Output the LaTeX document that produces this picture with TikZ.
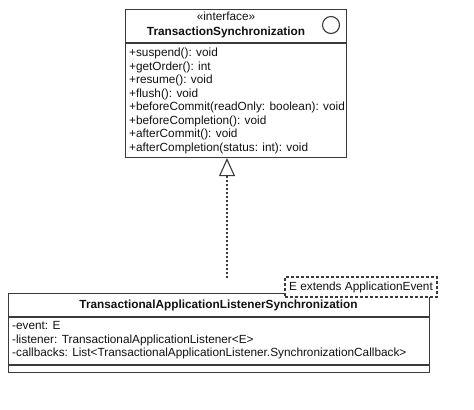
\documentclass[tikz,border=0pt]{standalone}
\usepackage{fontspec}
\setmainfont{Liberation Sans}
\usetikzlibrary{arrows.meta}
\definecolor{linec}{HTML}{3A3A3A}
\definecolor{txtc}{HTML}{111111}
\begin{document}
\begin{tikzpicture}[x=1bp,y=-1bp,
  classbox/.style={draw=linec, line width=1.1bp, fill=white, inner sep=0pt, anchor=north west},
  divider/.style={draw=linec, line width=1.1bp},
  txt/.style={font=\fontsize{11.8bp}{13.5bp}\selectfont, inner sep=0pt, text=txtc, text height=8.5bp, text depth=2.5bp},
  member/.style={txt, anchor=west},
  titletxt/.style={txt, font=\fontsize{11.8bp}{13.5bp}\selectfont\bfseries},
  tplbox/.style={draw=linec, line width=1.1bp, dash pattern=on 3bp off 2bp, fill=white, inner sep=0pt, minimum width=152bp, minimum height=20bp, txt},
  realize/.style={draw=linec, line width=1.2bp, dash pattern=on 2bp off 2bp, -{Triangle[open, length=18bp, width=16bp, line width=1.1bp]}}
]
\useasboundingbox (0,0) rectangle (474,409);

% Interface TransactionSynchronization
\node[classbox, minimum width=221bp, minimum height=148bp] (ts) at (125,9) {};
\draw[divider] (ts.west |- 0,43) -- (ts.east |- 0,43);
\node[draw=linec, line width=1.1bp, circle, minimum size=17bp, inner sep=0pt] (icon) at (331,25) {};
\node[txt] (tsst) at (226,17) {«interface»};
\node[titletxt] (tsname) at (226,32) {TransactionSynchronization};
\node[member] (m1) at (129,53.5) {+suspend(): void};
\node[member] (m2) at (129,67) {+getOrder(): int};
\node[member] (m3) at (129,80.5) {+resume(): void};
\node[member] (m4) at (129,94) {+flush(): void};
\node[member] (m5) at (129,107.5) {+beforeCommit(readOnly: boolean): void};
\node[member] (m6) at (129,121) {+beforeCompletion(): void};
\node[member] (m7) at (129,134.5) {+afterCommit(): void};
\node[member] (m8) at (129,148) {+afterCompletion(status: int): void};

% Class TransactionalApplicationListenerSynchronization
\node[classbox, minimum width=421bp, minimum height=79bp] (tals) at (8,293) {};
\draw[divider] (tals.west |- 0,317) -- (tals.east |- 0,317);
\draw[divider] (tals.west |- 0,365) -- (tals.east |- 0,365);
\node[titletxt] (talsname) at (218.5,305) {TransactionalApplicationListenerSynchronization};
\node[member] (a1) at (12,326.5) {-event: E};
\node[member] (a2) at (12,340) {-listener: TransactionalApplicationListener<E>};
\node[member] (a3) at (12,353.5) {-callbacks: List<TransactionalApplicationListener.SynchronizationCallback>};

% Template parameter
\node[tplbox] (tpl) at (361,287) {E extends ApplicationEvent};

% Realization
\coordinate (src) at (227,278);
\draw[realize] (src) -- (src |- ts.south);
\end{tikzpicture}
\end{document}
